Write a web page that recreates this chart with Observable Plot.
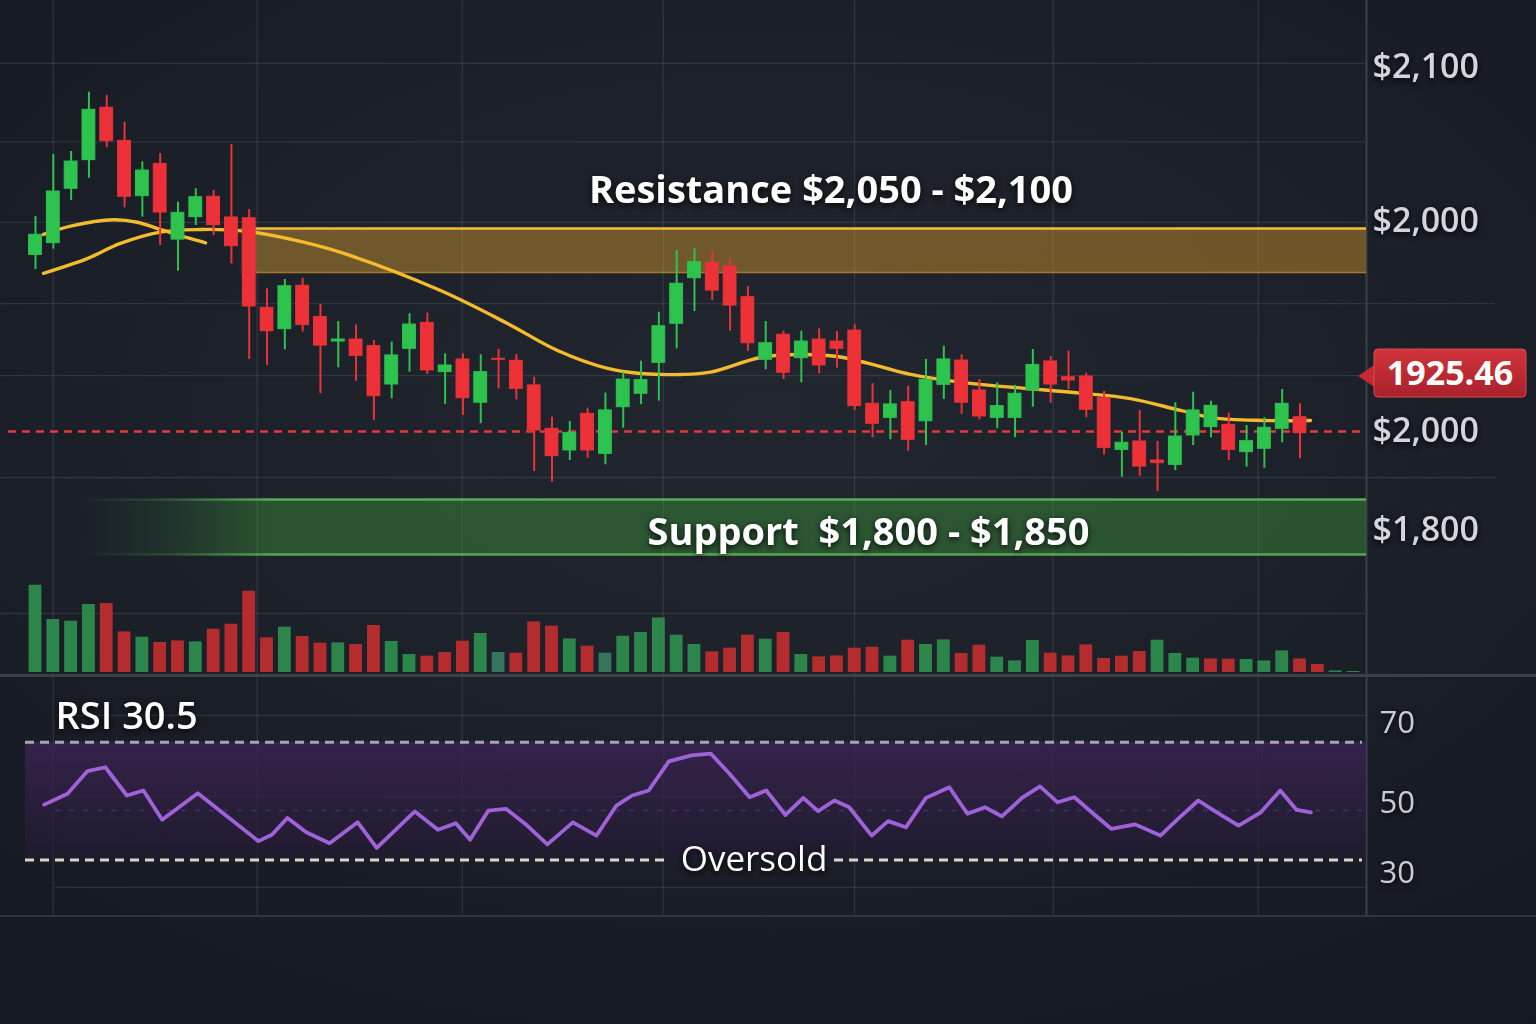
<!DOCTYPE html>
<html><head><meta charset="utf-8">
<script src="https://cdn.jsdelivr.net/npm/d3@7"></script>
<script src="https://cdn.jsdelivr.net/npm/@observablehq/plot@0.6"></script>
<style>
html,body{margin:0;padding:0;background:#141920;}
#wrap{position:relative;width:1536px;height:1024px;overflow:hidden;
  background: radial-gradient(ellipse 85% 75% at 50% 40%, #21262f 0%, #1a1f28 55%, #141820 100%);
  font-family:"Open Sans","Noto Sans",sans-serif;}
#wrap svg{position:absolute;left:0;overflow:visible;}
.sep{position:absolute;left:0;width:1536px;}
</style></head>
<body><div id="wrap"></div>
<script>
// ================= DATA =================
const candleOpen  = [1978.4,1986.0,2021.2,2039.7,2073.6,2052.2,2016.4,2037.3,1988.3,2002.8,2016.0,2002.6,2002.1,1944.1,1930.3,1958.4,1938.1,1922.3,1923.6,1919.3,1894.5,1917.6,1934.4,1902.5,1910.7,1882.7,1911.1,1909.8,1893.9,1865.8,1851.8,1875.5,1849.6,1879.8,1888.5,1908.5,1933.8,1963.3,1973.3,1970.9,1951.0,1910.5,1926.7,1911.5,1923.6,1922.3,1929.4,1882.0,1872.9,1883.0,1870.7,1894.3,1910.0,1890.6,1872.9,1872.9,1890.6,1909.4,1899.2,1899.7,1885.6,1852.2,1857.6,1845.3,1842.5,1861.5,1866.9,1868.4,1850.7,1852.9,1865.8,1873.3];
const candleHigh  = [2003.2,2043.4,2045.3,2083.7,2081.6,2064.3,2038.6,2044.0,2012.5,2021.2,2020.1,2049.8,2007.8,1956.4,1962.5,1963.3,1946.3,1935.3,1933.1,1923.0,1921.9,1940.3,1940.7,1914.4,1914.4,1913.7,1917.2,1913.9,1899.2,1873.3,1870.6,1879.2,1888.9,1902.5,1909.6,1941.3,1981.2,1982.3,1980.8,1975.9,1957.9,1935.3,1929.0,1929.0,1930.5,1928.8,1933.1,1895.0,1890.6,1893.4,1910.7,1919.3,1913.7,1897.7,1895.6,1893.9,1917.2,1912.6,1916.1,1901.8,1890.0,1863.6,1877.7,1857.6,1882.7,1889.5,1883.7,1875.9,1868.0,1872.9,1891.3,1882.0];
const candleLow   = [1968.9,1982.1,2013.6,2028.0,2047.7,2008.9,2002.8,1984.5,1967.8,1997.4,1990.9,1972.6,1910.7,1906.8,1917.0,1928.4,1888.5,1905.3,1896.6,1871.2,1885.2,1902.5,1901.0,1881.6,1874.4,1869.1,1891.7,1884.6,1838.2,1831.3,1845.3,1846.8,1842.5,1866.2,1881.4,1883.7,1917.6,1941.7,1948.9,1929.0,1915.9,1904.0,1897.7,1895.6,1901.4,1905.1,1877.7,1860.0,1858.7,1851.3,1855.0,1884.8,1875.1,1871.6,1865.8,1860.0,1879.8,1882.4,1891.1,1873.0,1849.0,1834.5,1835.1,1825.2,1838.8,1855.0,1860.0,1845.3,1841.0,1840.3,1856.8,1846.4];
const candleClose = [1991.4,2019.4,2038.8,2072.3,2052.0,2016.0,2033.0,2005.8,2005.6,2015.7,1997.6,1984.0,1945.0,1929.0,1958.1,1932.9,1919.7,1923.6,1913.1,1886.9,1913.3,1933.3,1903.6,1906.8,1885.6,1902.5,1910.5,1891.7,1864.7,1848.1,1863.2,1851.8,1877.7,1897.7,1897.3,1932.2,1959.7,1973.7,1955.3,1945.6,1921.2,1921.2,1902.1,1922.3,1906.8,1917.6,1880.5,1869.1,1881.6,1858.7,1897.5,1910.7,1882.7,1873.8,1880.5,1888.5,1907.2,1894.5,1897.1,1878.1,1853.5,1856.8,1841.4,1843.6,1860.8,1877.7,1880.7,1852.2,1857.8,1866.5,1882.0,1863.0];

// moving averages (candle position, price)
const maSlowIdx = [0.45,2.9,4.77,7.02,9.26,10.76,12.24,15.05,17.4,22.74,26.5,29.31,32.12,33.97,36.22,37.9,40.71,42.95,45.03,46.71,49.13,51.94,53.62,55.87,58.67,61.48,64.29,66.14,68.95,71.59];
const maSlowVal = [1966.5,1976.0,1985.8,1993.1,1994.8,1994.6,1993.1,1986.6,1979.0,1955.3,1934.0,1916.5,1904.9,1901.6,1901.0,1902.5,1912.0,1913.9,1912.6,1908.3,1901.0,1896.0,1893.9,1891.7,1888.9,1885.4,1877.7,1872.9,1871.2,1871.2];
const maFastIdx = [0.45,1.97,4.38,5.71,7.19,8.52,9.55];
const maFastVal = [1991.6,1997.0,2001.1,1999.5,1994.2,1989.5,1986.2];

// volume (arbitrary units) and bar direction g=up, t=up (muted), r=down
const volume = [87.3,53,51.3,68,69,40.6,35.3,30,31.6,30.6,43.3,48.3,81.3,34.6,45.3,36,29.3,29.6,28,47,31,18,16.3,20,31.3,39,20,19.3,50.6,46.3,33.6,26.3,19.3,36.3,40,54.6,37.3,28,20.6,24.3,37.3,33.3,40,18,15.6,16.6,24.3,25.3,16.3,32.3,28,32.6,19,27.3,15.3,11.6,32,19.3,16.6,27.6,14,16.3,21,32.3,19,14.3,13.6,13.3,13,11.6,21.6,13.6,8,1.6,1];
const volumeDir = "ggggrrgrrgrrrrgrrgrrggrrrgtrrrgrtgggggrrrgrgrrrrgrggrrgggrrrrrrgggrrgggrrgg".split("");

// RSI (candle position, value)
const rsiIdx = [0.49,1.80,2.92,3.92,5.13,6.06,7.11,9.11,12.52,13.27,14.15,15.20,16.51,18.09,19.16,21.30,22.60,23.60,24.40,25.43,26.41,27.61,28.74,30.17,31.50,32.62,33.50,34.43,35.56,36.83,37.92,38.97,40.10,41.03,42.11,43.11,43.94,44.86,45.69,46.95,47.87,48.87,50.00,51.31,52.33,53.31,54.26,55.39,56.40,57.39,58.33,59.40,60.40,61.74,63.16,64.24,65.29,66.17,67.55,68.80,69.89,70.81,71.61];
const rsiVal = [48.8,52.5,60.2,61.5,51.9,53.6,43.7,52.7,36.4,38.6,44.3,39.4,35.7,42.8,34.1,46.5,40.3,42.5,36.9,46.8,47.4,41.7,35.3,42.8,38.3,48.5,51.9,53.6,63.5,65.5,66.1,59.3,51.3,53.6,45.3,51.1,46.6,50.2,47.9,38.3,43.2,41.1,51.1,54.7,45.7,47.9,44.8,51.1,55.0,49.6,51.3,45.7,40.6,42.1,38.3,44.5,50.2,46.8,41.7,46.2,53.6,47.0,46.2];

// levels and labels
const priceTicks = [2100, 2000, 1864.1, 1800];
const priceTickLabels = ["$2,100", "$2,000", "$2,000", "$1,800"];
const priceGrid = [2102.3, 2051.5, 1999.4, 1946.9, 1900.3, 1834.3, 1746.3];
const priceGridWide = [1946.9, 1834.3];
const resistanceZone = [1967.0, 1995.5];
const supportZone = [1784.5, 1820.1];
const resistanceLabel = "Resistance $2,050 - $2,100";
const supportLabel = "Support  $1,800 - $1,850";
const currentLevel = 1864.1;
const lastPriceLevel = 1901.6;
const lastPriceLabel = "1925.46";
const rsiBands = [30, 70];
const rsiMid = 46.8;
const rsiGrid = [79.1, 51.6, 20.7];
const rsiTicks = [70, 50, 30];
const rsiTickLabels = ["70", "50", "30"];
const rsiLabel = "RSI 30.5";
const oversoldLabel = "Oversold";

// ================= LAYOUT =================
const W = 1536;
const X0 = 35, STEP = 17.81;              // pixel of first candle, candle spacing
const px = p => (p - X0) / STEP;          // pixel -> candle position (layout helper)
const xDomain = [px(0), px(W)];
const AX = px(1366);                      // price-axis separator
const vGrid = [px(52.7), px(256.7), px(461.7), px(662.7), px(854), px(1052.7), px(1257.7)];
const UP = "#2ec24f", DOWN = "#ec3238", MA = "#f4bb2e";
const GRIDC = "#7d8597", GRIDO = 0.22;
const FONT = "Open Sans";

const wrap = document.getElementById("wrap");

function grad(svg, id, attrs, stops) {
  let defs = d3.select(svg).select("defs");
  if (defs.empty()) defs = d3.select(svg).insert("defs", ":first-child");
  const g = defs.append("linearGradient").attr("id", id);
  for (const [k, v] of Object.entries(attrs)) g.attr(k, v);
  for (const [o, c, op] of stops) g.append("stop").attr("offset", o).attr("stop-color", c).attr("stop-opacity", op);
}

const candles = candleOpen.map((o, i) => ({
  i, o, h: candleHigh[i], l: candleLow[i], c: candleClose[i],
  col: candleClose[i] >= o ? UP : DOWN
}));
const maSlow = maSlowIdx.map((x, i) => ({x, y: maSlowVal[i]}));
const maFast = maFastIdx.map((x, i) => ({x, y: maFastVal[i]}));
const volColors = {g: "#2f9150", t: "#3b7d63", r: "#c62d30"};
const vols = volume.map((v, i) => ({i, v, col: volColors[volumeDir[i]]}));
const rsi = rsiIdx.map((x, i) => ({x, y: rsiVal[i]}));

const common = {
  width: W, margin: 0,
  x: {domain: xDomain, axis: null},
  color: {type: "identity"},
  style: {background: "transparent", overflow: "visible", fontFamily: FONT}
};

// ---------------- price panel ----------------
const pricePlot = Plot.plot({
  ...common, height: 676,
  y: {domain: [1705.5, 2143.04], axis: null},
  marks: [
    Plot.ruleY(priceGrid, {x1: xDomain[0], x2: AX, stroke: GRIDC, strokeOpacity: GRIDO, strokeWidth: 1.3}),
    Plot.ruleY(priceGridWide, {x1: AX, x2: px(1495), stroke: GRIDC, strokeOpacity: GRIDO, strokeWidth: 1.3}),
    Plot.ruleX(vGrid, {stroke: GRIDC, strokeOpacity: GRIDO, strokeWidth: 1.3}),
    Plot.ruleX([AX], {stroke: "#3a404b", strokeWidth: 2}),
    // resistance zone
    Plot.rect([resistanceZone], {x1: px(238), x2: AX, y1: d => d[0], y2: d => d[1], fill: "url(#resFill)"}),
    Plot.ruleY([resistanceZone[1]], {x1: px(238), x2: AX, stroke: "url(#resTop)", strokeWidth: 2.5}),
    Plot.ruleY([resistanceZone[0]], {x1: px(238), x2: AX, stroke: "url(#resBot)", strokeWidth: 1.6}),
    // support zone
    Plot.rect([supportZone], {x1: px(80), x2: AX, y1: d => d[0], y2: d => d[1], fill: "url(#supFill)"}),
    Plot.ruleY([supportZone[1]], {x1: px(80), x2: AX, stroke: "url(#supLine)", strokeWidth: 2.5}),
    Plot.ruleY([supportZone[0]], {x1: px(80), x2: AX, stroke: "url(#supLine)", strokeWidth: 2.5}),
    // current price
    Plot.ruleY([currentLevel], {x1: px(8), x2: AX, stroke: "#e23a3c", strokeWidth: 2.6, strokeDasharray: "8,6"}),
    // moving averages
    Plot.line(maFast, {x: "x", y: "y", stroke: MA, strokeWidth: 3.4, curve: "catmull-rom"}),
    Plot.line(maSlow, {x: "x", y: "y", stroke: MA, strokeWidth: 3.4, curve: "catmull-rom"}),
    // candles
    Plot.ruleX(candles, {x: "i", y1: "l", y2: "h", stroke: "col", strokeWidth: 2}),
    Plot.rect(candles, {x1: d => d.i - 0.36, x2: d => d.i + 0.36, y1: "o", y2: "c", fill: "col", stroke: "col", strokeWidth: 1}),
    // axis labels
    Plot.text(priceTicks, {x: px(1372), y: d => d, text: (d, i) => priceTickLabels[i], textAnchor: "start",
      fill: "#d2d5db", fontSize: 34, fontWeight: 600, fontFamily: FONT, letterSpacing: 2}),
    // zone labels
    Plot.text([resistanceLabel], {x: px(830.5), y: resistanceZone[1], dy: -38, text: d => d, fill: "#ffffff",
      fontSize: 38, fontWeight: 700, fontFamily: FONT, letterSpacing: 0.6}),
    Plot.text([supportLabel], {x: px(868), y: (supportZone[0] + supportZone[1]) / 2, dy: 6, text: d => d, fill: "#ffffff",
      fontSize: 38, fontWeight: 700, fontFamily: FONT, letterSpacing: 0.6})
  ]
});
pricePlot.style.top = "0px";
grad(pricePlot, "resFill", {gradientUnits: "userSpaceOnUse", x1: 238, x2: 1366, y1: 0, y2: 0},
  [[0, "#d89e2c", 0], [0.018, "#d89e2c", 0.44], [1, "#cf9528", 0.46]]);
grad(pricePlot, "resTop", {gradientUnits: "userSpaceOnUse", x1: 238, x2: 1366, y1: 0, y2: 0},
  [[0, "#f6bc35", 0], [0.018, "#f6bc35", 1], [1, "#f6bc35", 1]]);
grad(pricePlot, "resBot", {gradientUnits: "userSpaceOnUse", x1: 238, x2: 1366, y1: 0, y2: 0},
  [[0, "#c4902c", 0], [0.018, "#c4902c", 0.8], [1, "#c4902c", 0.8]]);
grad(pricePlot, "supFill", {gradientUnits: "userSpaceOnUse", x1: 80, x2: 1366, y1: 0, y2: 0},
  [[0, "#3f9c3b", 0], [0.07, "#3f9c3b", 0.15], [0.15, "#3f9c3b", 0.42], [1, "#3f9c3b", 0.42]]);
grad(pricePlot, "supLine", {gradientUnits: "userSpaceOnUse", x1: 80, x2: 1366, y1: 0, y2: 0},
  [[0, "#5fbf58", 0], [0.07, "#5fbf58", 0.25], [0.15, "#5fbf58", 0.85], [1, "#5fbf58", 0.85]]);
grad(pricePlot, "tagFill", {x1: 0, y1: 0, x2: 0, y2: 1},
  [[0, "#d0343c", 1], [1, "#a9212b", 1]]);
// last price tag, positioned with the plot's own scales
{
  const sx = pricePlot.scale("x"), sy = pricePlot.scale("y");
  const yC = sy.apply(lastPriceLevel);
  const tip = sx.apply(AX) - 8;
  const bx = tip + 16, bw = 152, bh = 48;
  const g = d3.select(pricePlot).append("g");
  g.append("path").attr("d", `M${tip},${yC + 3}L${bx + 2},${yC - 9}L${bx + 2},${yC + 15}Z`).attr("fill", "#c52a33");
  g.append("rect").attr("x", bx).attr("y", yC - bh / 2).attr("width", bw).attr("height", bh).attr("rx", 4)
    .attr("fill", "url(#tagFill)").attr("stroke", "#dc4a52").attr("stroke-width", 1);
  g.append("text").attr("x", bx + bw / 2).attr("y", yC).attr("dy", "0.35em").attr("text-anchor", "middle")
    .attr("fill", "#ffffff").attr("font-size", 34).attr("font-weight", 700).attr("font-family", FONT).text(lastPriceLabel);
}
wrap.appendChild(pricePlot);

// ---------------- volume panel ----------------
const volPlot = Plot.plot({
  ...common, height: 100,
  y: {domain: [0, 100], axis: null},
  marks: [
    Plot.rect(vols, {x1: d => d.i - 0.36, x2: d => d.i + 0.36, y1: 0, y2: "v", fill: "col", fillOpacity: 0.9})
  ]
});
volPlot.style.top = "572px";
wrap.appendChild(volPlot);

// ---------------- RSI panel ----------------
const rsiPlot = Plot.plot({
  ...common, height: 240,
  y: {domain: [10.82, 92.31], axis: null},
  marks: [
    Plot.ruleY(rsiGrid, {x1: px(55), x2: AX, stroke: GRIDC, strokeOpacity: GRIDO, strokeWidth: 1.3}),
    Plot.ruleX(vGrid, {stroke: GRIDC, strokeOpacity: GRIDO, strokeWidth: 1.3}),
    Plot.ruleX([AX], {stroke: "#3a404b", strokeWidth: 2}),
    Plot.rect([rsiBands], {x1: px(25), x2: AX, y1: d => d[0], y2: d => d[1], fill: "url(#rsiFill)"}),
    Plot.ruleY([rsiMid], {x1: px(55), x2: px(1362), stroke: "#4c52b0", strokeOpacity: 0.45, strokeWidth: 1.5, strokeDasharray: "5,9"}),
    Plot.ruleY([rsiBands[1]], {x1: px(25), x2: px(1362), stroke: "#a5a6b0", strokeWidth: 3, strokeDasharray: "9,6"}),
    Plot.ruleY([[px(25), px(668)], [px(834), px(1362)]], {y: rsiBands[0], x1: d => d[0], x2: d => d[1],
      stroke: "#dcd6c6", strokeWidth: 3, strokeDasharray: "9,6"}),
    Plot.line(rsi, {x: "x", y: "y", stroke: "#a062d8", strokeWidth: 3.8, strokeLinejoin: "round"}),
    Plot.text([rsiLabel], {x: px(55), y: rsiGrid[0], dy: 1, text: d => d, textAnchor: "start", fill: "#ffffff",
      fontSize: 38, fontWeight: 600, fontFamily: FONT, letterSpacing: 1.5}),
    Plot.text([oversoldLabel], {x: px(753.5), y: rsiBands[0], text: d => d, fill: "#ffffff",
      fontSize: 35, fontWeight: 500, fontFamily: FONT}),
    Plot.text([rsiTicks[0]], {x: px(1379), y: d => d, dy: -19, text: () => rsiTickLabels[0], textAnchor: "start", fill: "#c9ccd2", fontSize: 31, fontWeight: 500, fontFamily: FONT}),
    Plot.text([rsiTicks[1]], {x: px(1379), y: d => d, dy: 2, text: () => rsiTickLabels[1], textAnchor: "start", fill: "#c9ccd2", fontSize: 31, fontWeight: 500, fontFamily: FONT}),
    Plot.text([rsiTicks[2]], {x: px(1379), y: d => d, dy: 13, text: () => rsiTickLabels[2], textAnchor: "start", fill: "#c9ccd2", fontSize: 31, fontWeight: 500, fontFamily: FONT})
  ]
});
rsiPlot.style.top = "676px";
grad(rsiPlot, "rsiFill", {x1: 0, y1: 0, x2: 0, y2: 1},
  [[0, "#3c2454", 0.8], [1, "#241a33", 0.65]]);
wrap.appendChild(rsiPlot);

// text shadows
for (const s of [pricePlot, rsiPlot]) {
  d3.select(s).selectAll('g[aria-label="text"] text').style("filter", "drop-shadow(0px 2px 3px rgba(0,0,0,0.85))");
}

// panel separators
const sep1 = document.createElement("div"); sep1.className = "sep";
sep1.style.cssText += "top:674px;height:3px;background:#3b414c;";
const sep2 = document.createElement("div"); sep2.className = "sep";
sep2.style.cssText += "top:915px;height:2px;background:#30353f;";
wrap.appendChild(sep1); wrap.appendChild(sep2);
</script>
</body></html>
